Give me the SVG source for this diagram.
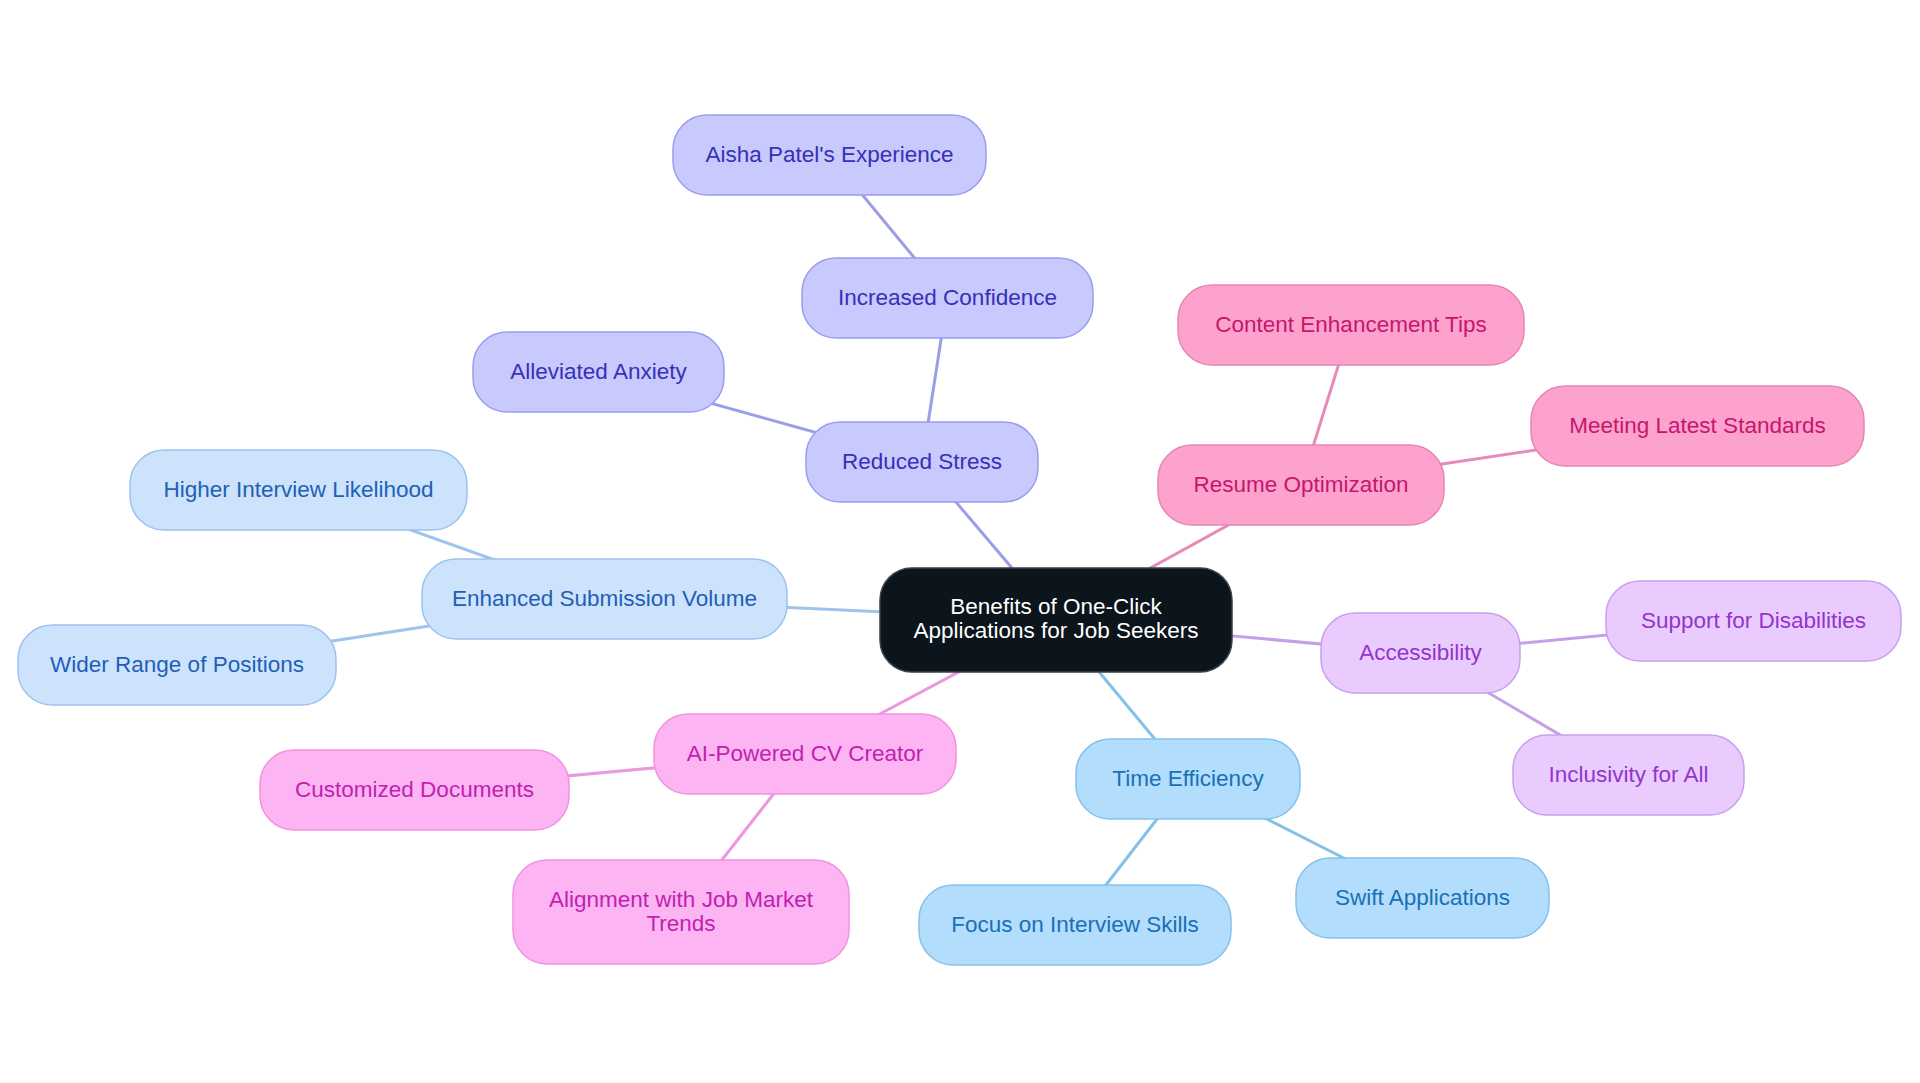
<svg xmlns="http://www.w3.org/2000/svg" width="1920" height="1083" viewBox="0 0 1920 1083">
<style>
text{font-family:"Liberation Sans",Arial,sans-serif;font-size:22.5px;text-anchor:middle}
.e{fill:none;stroke-width:3}
.n rect{stroke-width:1.5}
.lav rect{fill:#c8c9fc;stroke:#9a9ded}.lav text{fill:#3730b8}
.lb rect{fill:#cde3fb;stroke:#9cc2ef}.lb text{fill:#1f5fb8}
.pk rect{fill:#fda2cd;stroke:#e486b4}.pk text{fill:#c5166d}
.pu rect{fill:#e9ccfd;stroke:#c89ef0}.pu text{fill:#9333d0}
.mg rect{fill:#fcb4f3;stroke:#ef92e3}.mg text{fill:#c21fb0}
.sk rect{fill:#b2ddfc;stroke:#86c1ec}.sk text{fill:#1a70b5}
.ctr rect{fill:#0c141c;stroke:#3a4048}.ctr text{fill:#ffffff}
</style>
<rect width="1920" height="1083" fill="#ffffff"/>
<g id="connectors">
<line class="e" stroke="#9a9de8" x1="1056" y1="620" x2="922" y2="462"/>
<line class="e" stroke="#9a9de8" x1="922" y1="462" x2="947.5" y2="298"/>
<line class="e" stroke="#9a9de8" x1="947.5" y1="298" x2="829.5" y2="155"/>
<line class="e" stroke="#9a9de8" x1="922" y1="462" x2="598.5" y2="372"/>
<line class="e" stroke="#9fc4ec" x1="1056" y1="620" x2="604.5" y2="599"/>
<line class="e" stroke="#9fc4ec" x1="604.5" y1="599" x2="298.5" y2="490"/>
<line class="e" stroke="#9fc4ec" x1="604.5" y1="599" x2="177" y2="665"/>
<line class="e" stroke="#e58bb8" x1="1056" y1="620" x2="1301" y2="485"/>
<line class="e" stroke="#e58bb8" x1="1301" y1="485" x2="1351" y2="325"/>
<line class="e" stroke="#e58bb8" x1="1301" y1="485" x2="1697.5" y2="426"/>
<line class="e" stroke="#c59fe8" x1="1056" y1="620" x2="1420.5" y2="653"/>
<line class="e" stroke="#c59fe8" x1="1420.5" y1="653" x2="1753.5" y2="621"/>
<line class="e" stroke="#c59fe8" x1="1420.5" y1="653" x2="1628.5" y2="775"/>
<line class="e" stroke="#ec97df" x1="1056" y1="620" x2="805" y2="754"/>
<line class="e" stroke="#ec97df" x1="805" y1="754" x2="414.5" y2="790"/>
<line class="e" stroke="#ec97df" x1="805" y1="754" x2="681" y2="912"/>
<line class="e" stroke="#84c0e8" x1="1056" y1="620" x2="1188" y2="779"/>
<line class="e" stroke="#84c0e8" x1="1188" y1="779" x2="1075" y2="925"/>
<line class="e" stroke="#84c0e8" x1="1188" y1="779" x2="1422.5" y2="898"/>
</g>
<g id="center" class="n ctr"><rect x="880" y="568" width="352" height="104" rx="32"/><text x="1056" y="614">Benefits of One-Click</text><text x="1056" y="638">Applications for Job Seekers</text></g>
<g id="aisha" class="n lav"><rect x="673" y="115" width="313" height="80" rx="34"/><text x="829.5" y="161.5">Aisha Patel's Experience</text></g>
<g id="confidence" class="n lav"><rect x="802" y="258" width="291" height="80" rx="34"/><text x="947.5" y="304.5">Increased Confidence</text></g>
<g id="anxiety" class="n lav"><rect x="473" y="332" width="251" height="80" rx="34"/><text x="598.5" y="378.5">Alleviated Anxiety</text></g>
<g id="stress" class="n lav"><rect x="806" y="422" width="232" height="80" rx="34"/><text x="922" y="468.5">Reduced Stress</text></g>
<g id="interview" class="n lb"><rect x="130" y="450" width="337" height="80" rx="34"/><text x="298.5" y="496.5">Higher Interview Likelihood</text></g>
<g id="submission" class="n lb"><rect x="422" y="559" width="365" height="80" rx="34"/><text x="604.5" y="605.5">Enhanced Submission Volume</text></g>
<g id="range" class="n lb"><rect x="18" y="625" width="318" height="80" rx="34"/><text x="177" y="671.5">Wider Range of Positions</text></g>
<g id="content" class="n pk"><rect x="1178" y="285" width="346" height="80" rx="34"/><text x="1351" y="331.5">Content Enhancement Tips</text></g>
<g id="standards" class="n pk"><rect x="1531" y="386" width="333" height="80" rx="34"/><text x="1697.5" y="432.5">Meeting Latest Standards</text></g>
<g id="resume" class="n pk"><rect x="1158" y="445" width="286" height="80" rx="34"/><text x="1301" y="491.5">Resume Optimization</text></g>
<g id="access" class="n pu"><rect x="1321" y="613" width="199" height="80" rx="34"/><text x="1420.5" y="659.5">Accessibility</text></g>
<g id="disab" class="n pu"><rect x="1606" y="581" width="295" height="80" rx="34"/><text x="1753.5" y="627.5">Support for Disabilities</text></g>
<g id="inclus" class="n pu"><rect x="1513" y="735" width="231" height="80" rx="34"/><text x="1628.5" y="781.5">Inclusivity for All</text></g>
<g id="aicv" class="n mg"><rect x="654" y="714" width="302" height="80" rx="34"/><text x="805" y="760.5">AI-Powered CV Creator</text></g>
<g id="custom" class="n mg"><rect x="260" y="750" width="309" height="80" rx="34"/><text x="414.5" y="796.5">Customized Documents</text></g>
<g id="align" class="n mg"><rect x="513" y="860" width="336" height="104" rx="34"/><text x="681" y="906.5">Alignment with Job Market</text><text x="681" y="930.5">Trends</text></g>
<g id="time" class="n sk"><rect x="1076" y="739" width="224" height="80" rx="34"/><text x="1188" y="785.5">Time Efficiency</text></g>
<g id="focus" class="n sk"><rect x="919" y="885" width="312" height="80" rx="34"/><text x="1075" y="931.5">Focus on Interview Skills</text></g>
<g id="swift" class="n sk"><rect x="1296" y="858" width="253" height="80" rx="34"/><text x="1422.5" y="904.5">Swift Applications</text></g>
</svg>
